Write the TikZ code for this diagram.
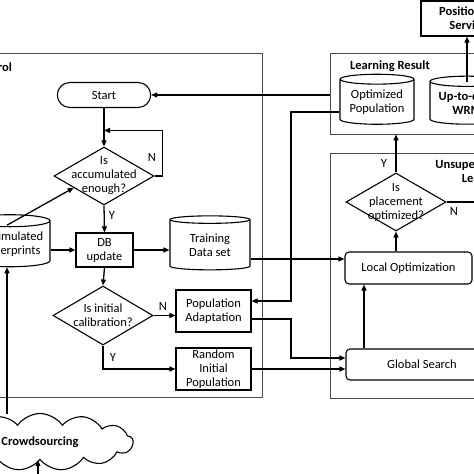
\documentclass[tikz,border=0pt]{standalone}
\usepackage{fontspec}
\setmainfont{Carlito}
\usetikzlibrary{arrows.meta,shapes.geometric,shapes.misc,shapes.symbols,calc}
\begin{document}
\begin{tikzpicture}[x=1pt,y=-1pt,
        font=\fontsize{12.5}{14}\selectfont,
        flow/.style={line width=1.3pt, -{Triangle[length=6pt,width=5pt]}},
        plain/.style={line width=1.3pt},
        container/.style={draw=black!70, line width=0.9pt, rectangle, inner sep=0pt},
        procbox/.style={draw, line width=1.1pt, rectangle, align=center, inner sep=1pt},
        roundbox/.style={procbox, rounded corners=4pt},
        terminal/.style={draw, line width=1.1pt, rounded rectangle, align=center},
        decision/.style={draw, line width=1.1pt, diamond, inner sep=0pt},
        database/.style={draw, line width=1.1pt, cylinder, shape border rotate=90, aspect=0.18, align=center, inner sep=0pt},
        boxlabel/.style={font=\fontsize{12.5}{14}\selectfont\bfseries, align=center}]
    \useasboundingbox (0,0) rectangle (474,474);
    \clip (0,0) rectangle (474,474);
    % Cajas de fondo
    \node[container, minimum width=322, minimum height=344] (ctrl) at (101,225) {};
    \node[boxlabel, anchor=base east] at (15.5,71) {Control};
    \node[container, minimum width=190, minimum height=81] (lrn) at (425,93.5) {};
    \node[boxlabel] at (390,66) {Learning Result};
    \node[container, minimum width=190, minimum height=245] (unsup) at (425,275.5) {};
    \node[boxlabel, align=right, anchor=north east] at (510,156) {Unsupervised\\Learning};
    % Control
    \node[terminal, minimum width=100, minimum height=25] (start) at (104,95) {Start};
    \node[decision, minimum width=100, minimum height=58,
          label={[align=center]center:Is\\accumulated\\enough?}] (acc) at (104,176) {};
    \node[procbox, minimum width=57, minimum height=34] (db) at (104.5,250) {DB\\update};
    \node[database, minimum width=80, minimum height=52] (fprint) at (10,244) {Accumulated\\Fingerprints};
    \node[database, minimum width=80, minimum height=54] (train) at (210,245) {Training\\Data set};
    \node[decision, minimum width=100, minimum height=59,
          label={[align=center]center:Is initial\\calibration?}] (calib) at (103,315.5) {};
    \node[procbox, minimum width=75, minimum height=42] (adapt) at (213.5,311) {Population\\Adaptation};
    \node[procbox, minimum width=75, minimum height=42] (rand) at (213.5,369) {Random\\Initial\\Population};
    % Aprendizaje
    \node[roundbox, minimum width=127, minimum height=32] (local) at (408.5,268) {Local Optimization};
    \node[roundbox, minimum width=152, minimum height=31] (global) at (422,364.5) {Global Search};
    \node[decision, minimum width=100, minimum height=58,
          label={[align=center]center:Is\\placement\\optimized?}] (place) at (396,202) {};
    \node[database, minimum width=74, minimum height=50] (optpop) at (377,102) {Optimized\\Population};
    \node[database, minimum width=74, minimum height=48, font=\fontsize{12.5}{14}\selectfont\bfseries] (wrm) at (467,103) {Up-to-date\\WRM};
    \node[procbox, minimum width=94, minimum height=35, font=\fontsize{12.5}{14}\selectfont\bfseries] (posserv) at (468,18.5) {Positioning\\Service};
    \node[cloud, draw, line width=1.1pt, cloud puffs=13, cloud puff arc=110, aspect=3,
          minimum width=186, minimum height=57, font=\fontsize{12.5}{14}\selectfont\bfseries] (crowd) at (40,442) {Crowdsourcing};
    \coordinate (crowdtop) at (7,414);
    \coordinate (crowdin) at (38,500);
    \coordinate (loopN) at (500,202);
    % Flechas
    \draw[flow] (lrn.west |- start.east) -- (start.east);
    \draw[flow] (start.south) -- (acc.north);
    \draw[flow] (acc.east) -- ++(8,0) |- ([yshift=16pt]acc.north);
    \node at (152,157) {N};
    \draw[flow] (acc.south) -- (db.north);
    \node at (112,215) {Y};
    \draw[flow] ([xshift=-3pt,yshift=-11pt]fprint.north) -- ($(acc.west)!0.4!(acc.south)$);
    \draw[flow] (fprint.east |- db.west) -- (db.west);
    \draw[flow] (db.east) -- (db.east -| train.west);
    \draw[flow] (db.south) -- (calib.north);
    \draw[flow] (calib.east) -- (calib.east -| adapt.west);
    \node at (163,306) {N};
    \draw[flow] (calib.south) |- (rand.west);
    \node at (113,357) {Y};
    \draw[flow] (crowdtop) -- (crowdtop |- fprint.south);
    \draw[flow] (crowdin) -- (crowdin |- crowd.south);
    \draw[flow] ([yshift=-14pt]train.east) -- ([yshift=-14pt]train.east -| local.west);
    \draw[flow] ([yshift=-10pt]optpop.west) -| (291,250) |- ([yshift=10pt]adapt.east);
    \draw[flow] ([yshift=-8pt]adapt.east) -| (291,330) |- ([yshift=6.5pt]global.west);
    \draw[flow] (rand.east) -- (rand.east -| global.west);
    \draw[flow] (global.north -| 364,0) -- (local.south -| 364,0);
    \draw[flow] (local.north -| place.south) -- (place.south);
    \draw[flow] (place.north) -- (place.north |- lrn.south);
    \node at (384,163) {Y};
    \draw[plain] (place.east) -- (loopN);
    \node at (454,211) {N};
    \draw[flow] ([yshift=-6pt]wrm.north) -- (wrm.north |- posserv.south);
\end{tikzpicture}
\end{document}
